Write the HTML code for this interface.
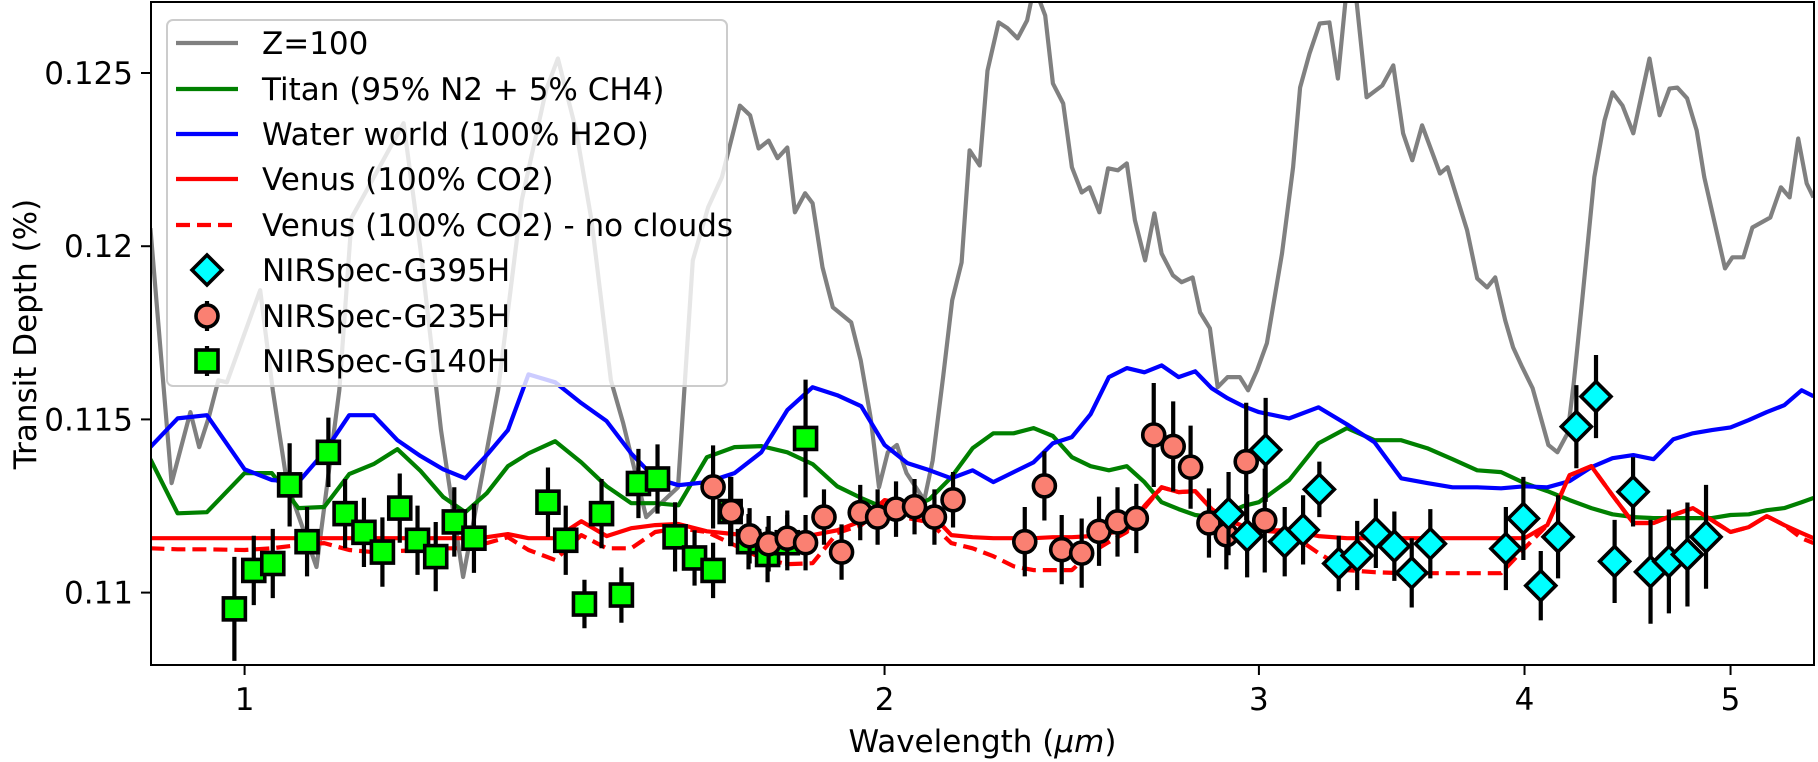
<!DOCTYPE html>
<html><head><meta charset="utf-8"><style>
html,body{margin:0;padding:0;background:#fff;}
svg{display:block;font-family:"DejaVu Sans","Liberation Sans",sans-serif;}
</style></head><body>
<svg id="chart" width="1818" height="762" viewBox="0 0 1818 762" xmlns="http://www.w3.org/2000/svg">
<g id="lines"></g>
<g id="pts"></g>
<g id="axes"></g>
<g id="legend"></g>
</svg>
<script>
// ---- data ----
const gridWl = [0.903,0.93,0.96,1.00,1.03,1.06,1.09,1.12,1.15,1.18,1.21,1.24,1.27,1.30,1.33,1.36,1.40,1.44,1.48,1.52,1.56,1.60,1.65,1.70,1.75,1.80,1.85,1.90,1.95,2.00,2.05,2.10,2.15,2.20,2.25,2.30,2.35,2.40,2.45,2.50,2.55,2.60,2.65,2.70,2.75,2.80,2.85,2.90,2.95,3.00,3.10,3.20,3.30,3.40,3.50,3.60,3.70,3.80,3.90,4.00,4.10,4.20,4.30,4.40,4.50,4.60,4.70,4.80,4.90,5.00,5.10,5.20,5.30,5.40,5.47];
const waterDepth = [.11420,.11503,.11512,.11356,.11325,.11319,.11405,.11512,.11512,.11440,.11394,.11356,.11330,.11397,.11469,.11630,.11607,.11547,.11495,.11402,.11330,.11310,.11319,.11345,.11405,.11527,.11593,.11570,.11538,.11426,.11374,.11353,.11330,.11353,.11319,.11348,.11376,.11431,.11449,.11515,.11622,.11648,.11636,.11656,.11622,.11639,.11590,.11561,.11538,.11521,.11503,.11535,.11486,.11434,.11330,.11316,.11304,.11304,.11301,.11307,.11304,.11322,.11362,.11388,.11397,.11385,.11443,.11460,.11469,.11477,.11498,.11521,.11541,.11584,.11567];
const titanDepth = [.11385,.11229,.11232,.11345,.11345,.11244,.11247,.11342,.11371,.11414,.11351,.11276,.11232,.11287,.11365,.11402,.11437,.11376,.11307,.11258,.11258,.11252,.11391,.11420,.11423,.11405,.11371,.11307,.11273,.11244,.11238,.11270,.11333,.11417,.11460,.11460,.11475,.11452,.11391,.11365,.11353,.11365,.11319,.11261,.11241,.11224,.11218,.11229,.11250,.11261,.11325,.11431,.11475,.11440,.11440,.11417,.11385,.11353,.11348,.11316,.11293,.11267,.11244,.11226,.11218,.11215,.11215,.11215,.11215,.11224,.11226,.11238,.11244,.11261,.11273];
const venusDepth = [.11157,.11157,.11157,.11157,.11157,.11157,.11157,.11157,.11157,.11157,.11157,.11157,.11157,.11160,.11169,.11157,.11157,.11206,.11163,.11186,.11195,.11198,.11177,.11169,.11157,.11151,.11166,.11180,.11206,.11267,.11252,.11232,.11166,.11160,.11157,.11157,.11157,.11160,.11160,.11163,.11172,.11180,.11250,.11304,.11290,.11293,.11241,.11209,.11192,.11180,.11180,.11163,.11157,.11157,.11157,.11157,.11157,.11157,.11157,.11157,.11195,.11339,.11365,.11281,.11201,.11201,.11224,.11244,.11209,.11175,.11189,.11221,.11195,.11172,.11157];
const venusNoCloudDepth = [.11128,.11125,.11125,.11123,.11128,.11137,.11143,.11123,.11117,.11120,.11123,.11128,.11128,.11143,.11160,.11123,.11094,.11166,.11128,.11128,.11175,.11186,.11175,.11137,.11100,.11082,.11085,.11172,.11195,.11252,.11215,.11203,.11143,.11128,.11105,.11076,.11065,.11065,.11065,.11114,.11146,.11175,.11244,.11304,.11290,.11293,.11241,.11209,.11192,.11180,.11172,.11114,.11065,.11059,.11056,.11056,.11056,.11056,.11056,.11128,.11195,.11339,.11365,.11281,.11201,.11201,.11224,.11244,.11209,.11175,.11189,.11221,.11195,.11157,.11143];
const z100Wl = [.903,.924,.943,.952,.962,.972,.981,1.017,1.031,1.047,1.081,1.108,1.123,1.188,1.21,1.237,1.267,1.316,1.35,1.386,1.404,1.432,1.456,1.487,1.507,1.545,1.599,1.625,1.652,1.677,1.71,1.729,1.745,1.764,1.781,1.80,1.815,1.835,1.85,1.87,1.891,1.929,1.949,1.970,1.988,2.007,2.027,2.048,2.088,2.107,2.131,2.152,2.174,2.193,2.217,2.236,2.263,2.285,2.31,2.334,2.352,2.38,2.40,2.427,2.45,2.476,2.497,2.524,2.548,2.575,2.60,2.623,2.652,2.679,2.70,2.733,2.759,2.792,2.815,2.845,2.869,2.90,2.939,2.965,2.994,3.026,3.076,3.113,3.137,3.169,3.204,3.238,3.268,3.30,3.329,3.371,3.429,3.47,3.507,3.542,3.58,3.65,3.68,3.759,3.80,3.841,3.875,3.917,3.951,3.99,4.035,4.105,4.145,4.191,4.219,4.258,4.314,4.362,4.40,4.448,4.50,4.58,4.63,4.68,4.72,4.77,4.82,4.86,4.97,5.01,5.07,5.12,5.22,5.28,5.33,5.38,5.43,5.47];
const z100Depth = [.12052,.11316,.11521,.11420,.11506,.11613,.11607,.11873,.11584,.11316,.11074,.11584,.12083,.12355,.11988,.11469,.11045,.11584,.12132,.12450,.12542,.12334,.12075,.11613,.11489,.11218,.11304,.11959,.12112,.12199,.12406,.12378,.12282,.12305,.12254,.12285,.12098,.12153,.12124,.11939,.11824,.11780,.11671,.11506,.11304,.11405,.11426,.11345,.11267,.11382,.11622,.11844,.11953,.12277,.12233,.12507,.12646,.12629,.12600,.12652,.1275,.12666,.12470,.12412,.12228,.12155,.12170,.12098,.12225,.12219,.12239,.12075,.11959,.12095,.11979,.11916,.11896,.11910,.11809,.11763,.11593,.11622,.11622,.11584,.11642,.11720,.11979,.12228,.12458,.12556,.12643,.12646,.12484,.1275,.1275,.12430,.12464,.12522,.12326,.12248,.12349,.12210,.12228,.12046,.11907,.11881,.11910,.11786,.11708,.11651,.11590,.11426,.11405,.11460,.11604,.11844,.12199,.12363,.12444,.12406,.12326,.12542,.12378,.12455,.12458,.12427,.12334,.12199,.11936,.11968,.11968,.12054,.12083,.12170,.12141,.12311,.12181,.12141];
const g140Wl = [0.989,1.010,1.031,1.050,1.070,1.095,1.115,1.138,1.161,1.183,1.206,1.230,1.255,1.282,1.389,1.416,1.445,1.472,1.504,1.532,1.564,1.594,1.628,1.661,1.692,1.726,1.762,1.800,1.836];
const g140Depth = [.10953,.11064,.11084,.11311,.11147,.11405,.11228,.11174,.11117,.11244,.11151,.11104,.11204,.11157,.11261,.11151,.10967,.11228,.10993,.11315,.11328,.11161,.11100,.11064,.11234,.11147,.11110,.11144,.11445];
const g140Err = [.0015,.0010,.0010,.0012,.0010,.0010,.0010,.0010,.0010,.0010,.0010,.0010,.0010,.0010,.0010,.0010,.0007,.0010,.0008,.0010,.0010,.0010,.0008,.0008,.0010,.0008,.0008,.0008,.0017];
const g235Wl = [1.661,1.694,1.728,1.764,1.800,1.836,1.873,1.909,1.948,1.985,2.025,2.066,2.111,2.154,2.328,2.378,2.423,2.476,2.523,2.574,2.627,2.677,2.734,2.786,2.842,2.896,2.959,3.019];
const g235Depth = [.11305,.11234,.11164,.11141,.11157,.11144,.11218,.11117,.11231,.11218,.11241,.11248,.11218,.11268,.11147,.11308,.11124,.11114,.11177,.11204,.11214,.11455,.11422,.11362,.11201,.11167,.11378,.11208];
const g235Err = [.0012,.0010,.0008,.0008,.0008,.0008,.0008,.0008,.0008,.0008,.0008,.0008,.0008,.0008,.0010,.0010,.0010,.0010,.0010,.0010,.0010,.0015,.0013,.0012,.0010,.0010,.0017,.0015];
const g395Wl = [2.903,2.962,3.022,3.085,3.147,3.203,3.271,3.337,3.405,3.474,3.540,3.612,3.920,3.995,4.071,4.148,4.231,4.322,4.410,4.499,4.585,4.677,4.772,4.869];
const g395Depth = [.11228,.11164,.11412,.11147,.11181,.11298,.11084,.11107,.11171,.11134,.11057,.11141,.11127,.11214,.11020,.11161,.11479,.11566,.11090,.11291,.11060,.11090,.11110,.11161];
const g395Err = [.0012,.0012,.0015,.0010,.0010,.0008,.0008,.0010,.0010,.0010,.0010,.0010,.0012,.0012,.0010,.0012,.0012,.0012,.0012,.0010,.0015,.0015,.0015,.0015];
const xTicks = [1,2,3,4,5];
const xTickLabels = ["1","2","3","4","5"];
const yTicks = [0.11,0.115,0.12,0.125];
const yTickLabels = ["0.11","0.115","0.12","0.125"];

// ---- scales ----
const L=151,R=1814,T=2,B=665, WMIN=0.9036, WMAX=5.473, DMIN=0.10791, DMAX=0.12705;
function xs(w){return L+(Math.log10(w)-Math.log10(WMIN))/(Math.log10(WMAX)-Math.log10(WMIN))*(R-L);}
function ys(d){return B-(d-DMIN)/(DMAX-DMIN)*(B-T);}
const NS="http://www.w3.org/2000/svg";
function mk(tag,attrs,parent){const e=document.createElementNS(NS,tag);for(const k in attrs)e.setAttribute(k,attrs[k]);parent.appendChild(e);return e;}

const svg=document.getElementById('chart');
const defs=mk('defs',{},svg);
const cp=mk('clipPath',{id:'clip'},defs);
mk('rect',{x:L,y:T,width:R-L,height:B-T},cp);

const gl=document.getElementById('lines');
gl.setAttribute('clip-path','url(#clip)');
function line(wl,dep,color,name,dash){
  let d='';
  for(let i=0;i<wl.length;i++){d+=(i?'L':'M')+xs(wl[i]).toFixed(1)+','+ys(dep[i]).toFixed(1);}
  const p=mk('path',{d:d,fill:'none',stroke:color,'stroke-width':4.2,'stroke-linejoin':'round'},gl);
  if(dash)p.setAttribute('stroke-dasharray',dash);
  
  
}
line(z100Wl,z100Depth,'#808080','z100-line');
line(gridWl,titanDepth,'#008000','titan-line');
line(gridWl,waterDepth,'#0000ff','water-world-line');
line(gridWl,venusDepth,'#ff0000','venus-line');
line(gridWl,venusNoCloudDepth,'#ff0000','venus-no-clouds-line','14,7');

const gp=document.getElementById('pts');
gp.setAttribute('clip-path','url(#clip)');
function marker(parent,shape,cx,cy,fill){
  let e;
  if(shape==='sq') e=mk('rect',{x:cx-11,y:cy-11,width:22,height:22,fill:fill,stroke:'#000','stroke-width':3.6},parent);
  else if(shape==='ci') e=mk('circle',{cx:cx,cy:cy,r:11,fill:fill,stroke:'#000','stroke-width':3.6},parent);
  else e=mk('path',{d:`M${cx},${cy-15}L${cx+15},${cy}L${cx},${cy+15}L${cx-15},${cy}Z`,fill:fill,stroke:'#000','stroke-width':3.6},parent);
  return e;
}
function series(wl,dep,err,shape,fill,name){
  const g=mk('g',{},gp);
  
  
  for(let i=0;i<wl.length;i++){
    const x=xs(wl[i]),y=ys(dep[i]);
    const eb=mk('line',{x1:x,x2:x,y1:ys(dep[i]+err[i]),y2:ys(dep[i]-err[i]),stroke:'#000','stroke-width':4.2},g);
    
    
    const m=marker(g,shape,x,y,fill);
    
    
  }
}
series(g140Wl,g140Depth,g140Err,'sq','#00ff00','g140h-series');
series(g235Wl,g235Depth,g235Err,'ci','#fa8072','g235h-series');
series(g395Wl,g395Depth,g395Err,'di','#00ffff','g395h-series');

// axes
const ga=document.getElementById('axes');
const fr=mk('rect',{x:L,y:T,width:R-L,height:B-T,fill:'none',stroke:'#000','stroke-width':2},ga);


for(let i=0;i<xTicks.length;i++){
  const x=xs(xTicks[i]);
  const t=mk('line',{x1:x,x2:x,y1:B,y2:B+10,stroke:'#000','stroke-width':2},ga);
  
  
  const tx=mk('text',{x:x,y:B+45,'font-size':31,'text-anchor':'middle',fill:'#000'},ga);
  tx.textContent=xTickLabels[i];
  
  
}
for(let i=0;i<yTicks.length;i++){
  const y=ys(yTicks[i]);
  const t=mk('line',{x1:L-10,x2:L,y1:y,y2:y,stroke:'#000','stroke-width':2},ga);
  
  
  const tx=mk('text',{x:L-18,y:y+11,'font-size':31,'text-anchor':'end',fill:'#000'},ga);
  tx.textContent=yTickLabels[i];
  
  
}
const xl=mk('text',{x:(L+R)/2,y:752,'font-size':31,'text-anchor':'middle',fill:'#000'},ga);
xl.innerHTML='Wavelength (<tspan font-style="italic">μ</tspan><tspan font-style="italic">m</tspan>)';


const yl=mk('text',{x:0,y:0,'font-size':31,'text-anchor':'middle',fill:'#000',transform:'translate(36,334) rotate(-90)'},ga);
yl.textContent='Transit Depth (%)';



// legend
const lg=document.getElementById('legend');
const box=mk('rect',{x:167,y:20,width:560,height:366,rx:6,fill:'rgba(255,255,255,0.8)',stroke:'#cccccc','stroke-width':2},lg);


const legLabels=['Z=100','Titan (95% N2 + 5% CH4)','Water world (100% H2O)','Venus (100% CO2)','Venus (100% CO2) - no clouds','NIRSpec-G395H','NIRSpec-G235H','NIRSpec-G140H'];
const legRows=[43,89,134,179,225,270,316,361];
const legColors=['#808080','#008000','#0000ff','#ff0000','#ff0000'];
for(let i=0;i<legLabels.length;i++){
  const y=legRows[i];
  const g=mk('g',{},lg);
  
  
  if(i<5){
    const l=mk('line',{x1:176,x2:238,y1:y,y2:y,stroke:legColors[i],'stroke-width':4.2},g);
    if(i===4)l.setAttribute('stroke-dasharray','14,7');
  } else {
    if(i>5) mk('line',{x1:207,x2:207,y1:y-15,y2:y+15,stroke:'#000','stroke-width':4.2},g);
    const shapes=['di','ci','sq'],fills=['#00ffff','#fa8072','#00ff00'];
    marker(g,shapes[i-5],207,y,fills[i-5]);
  }
  const t=mk('text',{x:262,y:y+11,'font-size':31,fill:'#000'},g);
  t.textContent=legLabels[i];
}
</script>
</body></html>
